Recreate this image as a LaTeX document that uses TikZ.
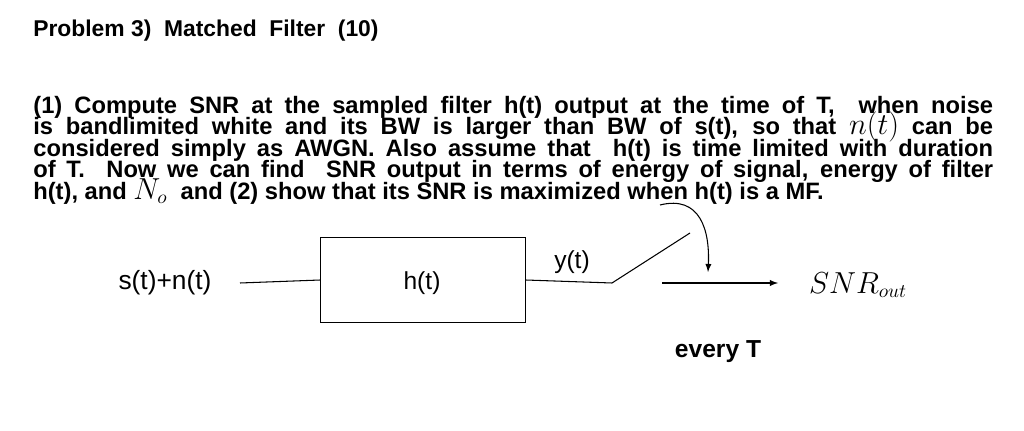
\documentclass[tikz,border=0pt]{standalone}
\usepackage{fontspec}
\setmainfont{Liberation Sans}
\begin{document}
\begin{tikzpicture}[x=0.02cm,y=-0.02cm,
  lbl/.style={inner sep=0pt,font=\fontsize{14}{12.6}\selectfont},
  ln/.style={line width=0.6pt},
  arr/.style={line width=0.6pt,-latex}]
\useasboundingbox (0,0) rectangle (1024,431);
\node[inner sep=0pt,anchor=west,font=\bfseries\fontsize{13}{13}\selectfont] (title) at (33,31) {Problem 3)\ \ Matched\ \ Filter\ \ (10)};
\node[inner sep=0pt,anchor=north west,text width=19.2cm,align=justify,font=\bfseries\fontsize{13.5}{12.2}\selectfont] (para) at (33,96)
{\hyphenpenalty=10000 \lineskiplimit=-5pt (1) Compute SNR at the sampled filter h(t) output at the time of T,\quad when noise\linebreak is bandlimited white and its BW is larger than BW of s(t), so that {\fontsize{16}{12}\selectfont$n(t)$} can be\linebreak considered simply as AWGN. Also assume that\ \ h(t) is time limited with duration\linebreak of T.\ \ Now we can find\ \ SNR output in terms of energy of signal, energy of filter\linebreak h(t), and {\fontsize{16}{12}\selectfont$N_o$}\ \ and (2) show that its SNR is maximized when h(t) is a MF.\par};
\node[draw,ln,minimum width=4.1cm,minimum height=1.7cm,anchor=north west] (h) at (320,237) {};
\node[lbl] at (422,283) {h(t)};
\node[lbl,font=\fontsize{15}{15}\selectfont] (in) at (165,283) {s(t)+n(t)};
\coordinate (inend) at (240,283);
\coordinate (sw) at (612,283);
\coordinate (swtop) at (690,233);
\coordinate (o1) at (662,283);
\coordinate (o2) at (778,283);
\coordinate (c0) at (660,205);
\coordinate (c1) at (708,272);
\draw[ln] (inend) -- (h.west);
\draw[ln] (h.east) -- (sw) -- (swtop);
\node[lbl] (y) at (572,262) {y(t)};
\draw[arr] (o1) -- (o2);
\draw[arr] (c0) .. controls (700,195) and (710,230) .. (c1);
\node[lbl,font=\fontsize{16}{16}\selectfont] (snr) at (858,285) {$SNR_{out}$};
\node[inner sep=0pt,font=\bfseries\fontsize{14}{14}\selectfont] (ev) at (718,352) {every T};
\end{tikzpicture}
\end{document}
